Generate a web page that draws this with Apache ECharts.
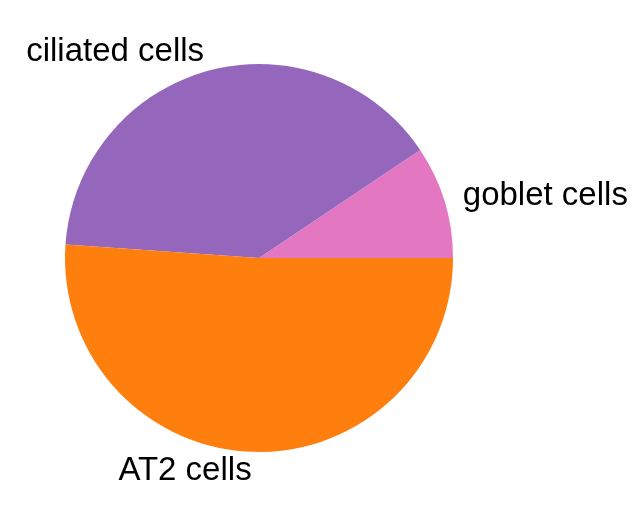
<!DOCTYPE html>
<html><head><meta charset="utf-8">
<script src="https://cdn.jsdelivr.net/npm/echarts@6/dist/echarts.min.js"></script>
<style>html,body{margin:0;padding:0;background:#fff}#c{width:643px;height:518px}</style>
</head><body><div id="c"></div>
<script>
const categories = ['goblet cells', 'ciliated cells', 'AT2 cells'];
const values = [9.4, 39.5, 51.1];
const colors = ['#e377c2', '#9467bd', '#ff7f0e'];
const chart = echarts.init(document.getElementById('c'));
chart.setOption({
  animation: false,
  series: [{
    type: 'pie',
    center: [259, 258],
    radius: [0, 194],
    startAngle: 0,
    clockwise: false,
    avoidLabelOverlap: false,
    data: categories.map((n, i) => ({name: n, value: values[i], itemStyle: {color: colors[i]}})),
    label: {show: true, position: 'outside', formatter: '{b}', color: '#000', fontSize: 33, fontFamily: 'Liberation Sans, Arial, sans-serif', distanceToLabelLine: 0},
    labelLine: {show: false, length: 19, length2: 0},
    itemStyle: {borderWidth: 0},
    emphasis: {disabled: true}
  }]
});
</script></body></html>
